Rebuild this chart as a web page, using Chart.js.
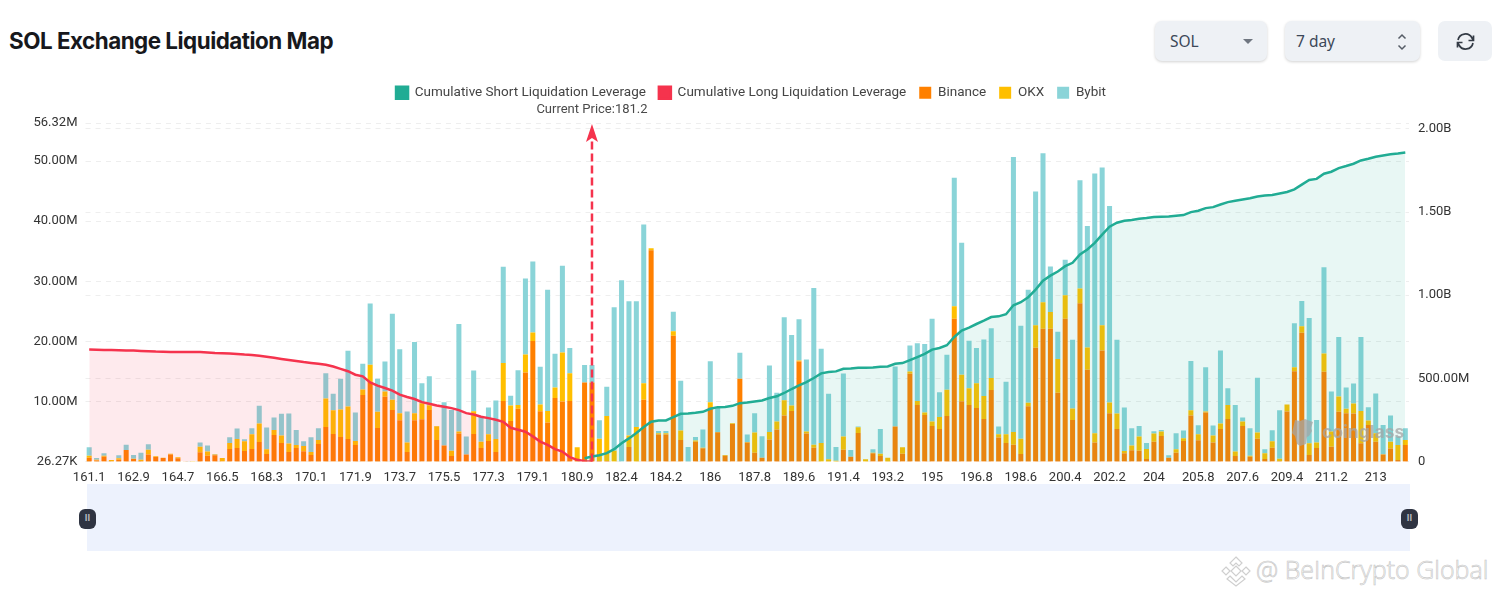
<!DOCTYPE html>
<html lang="en">
<head>
  <meta charset="UTF-8" />
  <title>SOL Exchange Liquidation Map</title>
  <script src="https://cdn.jsdelivr.net/npm/chart.js"></script>
  <style>
    html, body { margin: 0; padding: 0; background: #fff; overflow: hidden; }
    body { width: 1496px; height: 597px; position: relative; font-family: Roboto, sans-serif; }
    h1 { position: absolute; left: 9px; top: 25px; margin: 0; font: 700 22.4px/32px Inter, sans-serif; letter-spacing: -0.5px; color: #17181c; }
    .ctl { position: absolute; top: 21px; height: 40px; background: #eef1f5; border-radius: 7px; box-shadow: 0 1px 3px rgba(0,0,0,.18); font: 15.5px/40px "Noto Sans", sans-serif; color: #3c4858; }
    .ctl span { position: absolute; left: 15px; top: 0; }
    #chart { position: absolute; left: 0; top: 71px; }
    #slider { position: absolute; left: 87px; top: 484px; width: 1323px; height: 67px; background: #edf2fd; }
    .handle { position: absolute; top: 509px; width: 17px; height: 20px; background: #2f3442; border-radius: 6px; color: #b9bcc4; font: 700 9px/19px Roboto, sans-serif; text-align: center; }
    #coinglass { position: absolute; left: 1322px; top: 420px; font: 700 17.5px/24px Inter, sans-serif; color: rgba(165,165,165,.75); }
    #brand { position: absolute; left: 1256px; top: 553px; font: 300 25px/32px "Open Sans", sans-serif; color: #fff; -webkit-text-stroke: .6px #c4c4c4; white-space: nowrap; }
    svg { position: absolute; }
  </style>
</head>
<body>
  <h1>SOL Exchange Liquidation Map</h1>

  <div class="ctl" style="left:1155px;width:112px"><span>SOL</span>
    <svg style="left:87px;top:17px" width="12" height="7"><path d="M1 1h10L6 6z" fill="#6f7680"/></svg>
  </div>
  <div class="ctl" style="left:1285px;width:135px"><span style="left:11px">7 day</span>
    <svg style="left:111px;top:11px" width="12" height="20" fill="none" stroke="#555c66" stroke-width="1.5"><path d="M2.5 6.5L6 3l3.5 3.5M2.5 13.5L6 17l3.5-3.5"/></svg>
  </div>
  <div class="ctl" style="left:1438px;width:54px;box-shadow:none">
    <svg style="left:18px;top:11px" width="19" height="19" fill="none" stroke="#333b45" stroke-width="1.7"><path d="M2 8a7.5 7.5 0 0 1 14-2l1.5 2.5M17 11a7.5 7.5 0 0 1-14 2l-1.5-2.5M17.5 3.5v5h-5M1.5 15.5v-5h5"/></svg>
  </div>

  <canvas id="chart" width="1496" height="414"></canvas>

  <div id="slider"></div>
  <div class="handle" style="left:79px">II</div>
  <div class="handle" style="left:1401px">II</div>

  <svg style="left:1292px;top:418px" width="22" height="28"><path d="M3 2l5 1 5-2 5 2 3 1-2 6 1 3-3 5-2 1-1 7-6 2-3-2-2-8-3-3z" fill="rgba(165,165,165,.75)"/></svg>
  <div id="coinglass">coinglass</div>

  <svg style="left:1221px;top:556px" width="30" height="31" fill="none" stroke="#cfcfcf" stroke-width="1.2"><path d="M15 1l6 6-3 3-3-3-3 3-3-3zM5 11l4 4-4 4-4-4zM25 11l4 4-4 4-4-4zM15 10l5 5-5 5-5-5zM9 20l6 6 6-6 3 3-9 7-9-7z"/></svg>
  <div id="brand">@ BeInCrypto Global</div>

  <script>
    // price buckets, every 6th one gets a label
    const priceLevels = [
      161.1,161.4,161.7,162,162.3,162.6,162.9,163.2,163.5,163.8,164.1,164.4,
      164.7,165,165.3,165.6,165.9,166.2,166.5,166.8,167.1,167.4,167.7,168,
      168.3,168.6,168.9,169.2,169.5,169.8,170.1,170.4,170.7,171,171.3,171.6,
      171.9,172.2,172.5,172.8,173.1,173.4,173.7,174,174.3,174.6,174.9,175.2,
      175.5,175.8,176.1,176.4,176.7,177,177.3,177.6,177.9,178.2,178.5,178.8,
      179.1,179.4,179.7,180,180.3,180.6,180.9,181.2,181.2,181.5,181.8,182.1,
      182.4,182.7,183,183.3,183.6,183.9,184.2,184.5,184.8,185.1,185.4,185.7,
      186,186.3,186.6,186.9,187.2,187.5,187.8,188.1,188.4,188.7,189,189.3,
      189.6,189.9,190.2,190.5,190.8,191.1,191.4,191.7,192,192.3,192.6,192.9,
      193.2,193.5,193.8,194.1,194.4,194.7,195,195.3,195.6,195.9,196.2,196.5,
      196.8,197.1,197.4,197.7,198,198.3,198.6,198.9,199.2,199.5,199.8,200.1,
      200.4,200.7,201,201.3,201.6,201.9,202.2,202.5,202.8,203.1,203.4,203.7,
      204,204.3,204.6,204.9,205.2,205.5,205.8,206.1,206.4,206.7,207,207.3,
      207.6,207.9,208.2,208.5,208.8,209.1,209.4,209.7,210,210.3,210.6,210.9,
      211.2,211.5,211.8,212.1,212.4,212.7,213,213.3,213.6,213.9,214.2
    ];

    // liquidation per bucket, in millions
    const binance = [
      .67,.2,.83,.05,.33,1.95,.45,.1,1.17,.78,.6,1.2,.55,.02,0,1.55,1,1.05,.05,2.1,
      2.28,1.78,2.1,3.28,1.28,4.45,3.1,1.6,2.28,1.72,1.1,2.95,5.78,4.6,4.1,3.78,2.78,11.1,13.3,5.6,
      10.8,8.6,6.9,1.6,6.9,7.05,8.6,3.6,2.67,.95,4.67,1.17,4.6,2.28,3.44,1.6,10.1,6.78,8.78,14.83,
      20.05,8.4,6.5,10.6,10,10.1,.3,13.17,13.17,.1,.1,0,0,2.44,0,10.28,35.17,4.5,4.5,20.94,
      3.6,0,3.33,2.22,9.05,4.9,1,6.28,13.78,3.17,1.5,.67,3.67,5.33,7.67,8.44,16.67,4.67,2.33,0,
      0,0,2,.83,4.78,0,1.4,.94,0,5.83,1.33,14.6,9.44,7.78,5.94,5.44,7.6,23.78,10.05,9.44,
      8.94,7.1,11.9,4,3.1,2.83,1.28,9.2,18.94,22.1,22.1,11.44,23.78,6.94,26.33,15.28,3.17,18.5,8.05,5.44,
      1.39,1.89,1.83,.44,3.33,4.28,.67,1.5,3.44,7.67,3.55,8.17,3.17,5.44,7.1,.94,5.94,.83,3.83,.44,
      2.33,.05,8.33,15.05,21.44,1.1,2.28,14.94,2.5,8.28,8.05,8,3.05,6.1,3.33,1.17,2.17,.28,2.78
    ];
    const okx = [
      .33,.13,.17,.23,.22,0,.05,.23,.83,.12,.07,.13,.17,0,.05,.95,.67,.15,.55,1,
      1.5,1.62,2.45,3.05,.77,.83,1.23,1.4,.5,.88,.5,.65,4.72,3.95,4.57,5.39,.66,.9,2.8,2.7,
      .87,1.7,1.15,1.57,1.15,2.65,.8,2.3,0,.88,.33,0,3.8,1.05,1.11,2.18,6.3,2.55,.66,3,
      1.45,1.1,1.94,1.73,8.17,4.6,2.1,0,0,3.73,7.5,1.83,0,1.89,5.78,2.78,.33,.22,.22,.73,
      1.6,0,.17,.11,.85,.05,.1,.12,0,.11,3.33,0,1.27,1.34,2.53,.89,.16,.33,.5,3.1,
      .39,.17,2.17,0,.94,.39,.1,.39,.67,0,1.06,.4,.66,.39,.73,2,4.34,2.05,4.39,2.76,
      4.12,3.8,2,.55,1.45,2.11,2.55,.58,3.76,4.4,2.8,5.62,3.89,1.89,2.45,3.72,1.55,4.17,1.78,2.56,
      .39,.78,2.34,1.66,1.34,.72,0,.55,.45,.88,1,.16,1.16,.89,2.34,.73,.73,.17,1,.95,
      1.06,.45,1.17,.67,1.06,1.95,.89,3.06,2.5,2.55,.73,1.67,5.39,.73,1.39,.05,1.16,2.5,.83
    ];
    const bybit = [
      1.4,.27,.4,0,.5,.85,.6,1.17,.9,0,0,0,0,0,0,.67,1,.08,0,.95,
      1.72,.32,1,2.95,3.62,2.05,3.62,5,2.5,.8,2.45,1.95,4.2,2.73,5.11,9.27,4.73,4.3,10.2,5.5,
      5,14.3,10.65,5.16,11.85,3.35,4.8,.05,7.23,6.77,17.9,3,6.77,4.17,4.45,6.39,16,1.61,5.76,12.61,
      11.8,6.28,20.16,5.61,14.43,4.2,0,2.89,2.89,3.07,4.84,23.84,30.17,22.34,20.89,26.38,0,.38,.38,3.27,
      8.24,2.44,.6,3,6.8,3.99,0,0,4.32,1.22,3.22,3.55,11.06,4.77,13.8,11.72,6.84,12,26.07,15.68,
      10.89,2.27,10.5,1.11,.11,0,.55,4.11,0,10,0,4.33,9.6,11.39,17.11,4.12,5.84,21.37,21.96,7.9,
      5.83,9.43,8.3,1.28,8.73,45.73,18.77,18.82,22.24,24.78,7.54,4.54,5.89,11.45,18,20.17,43.22,26.27,32.67,12.28,
      7.22,2.89,1.75,1,.38,.28,.38,2.67,1.28,8.17,1.5,7.39,1.67,12.17,2.76,7.77,.66,4.56,9.11,.66,
      1.83,8.05,0,7.28,4.22,20.85,3.77,14.33,6.67,9.89,3.55,3.33,12.28,2.22,6.61,4.89,4.34,1.39,1.95
    ];

    // cumulative leverage, in billions (long runs up to the current price, short starts there)
    const longLeverage = [
      .673,.672,.671,.67,.669,.668,.667,.665,.663,.661,.66,.659,.659,.659,.659,.658,.655,.652,.651,.65,
      .647,.643,.641,.636,.63,.624,.617,.611,.604,.598,.593,.588,.582,.571,.557,.543,.522,.512,.476,.456,
      .442,.426,.402,.388,.376,.357,.347,.337,.329,.321,.309,.291,.283,.269,.261,.251,.239,.203,.191,.179,
      .151,.12,.1,.074,.06,.026,.01,.002,0
    ];
    const shortLeverage = [
      .02,.03,.038,.05,.074,.11,.139,.171,.207,.239,.247,.247,.267,.287,.289,.293,.299,.317,.327,.328,
      .335,.351,.355,.361,.367,.382,.392,.412,.436,.458,.478,.502,.53,.538,.542,.558,.56,.564,.564,.566,
      .57,.572,.588,.592,.61,.628,.647,.673,.683,.699,.749,.787,.805,.827,.847,.869,.873,.886,.94,.958,
      .988,1.034,1.088,1.118,1.143,1.175,1.195,1.245,1.275,1.315,1.365,1.412,1.436,1.448,1.452,1.46,1.464,1.47,1.472,1.474,
      1.478,1.482,1.5,1.508,1.524,1.53,1.546,1.56,1.568,1.576,1.583,1.594,1.6,1.603,1.612,1.621,1.637,1.665,1.693,1.7,
      1.731,1.743,1.765,1.777,1.791,1.811,1.821,1.833,1.841,1.848,1.852,1.858
    ];

    const leftTicks = [0.02627, 10, 20, 30, 40, 50, 56.32];
    const leftTickLabels = ['26.27K', '10.00M', '20.00M', '30.00M', '40.00M', '50.00M', '56.32M'];
    const rightTicks = [0, 0.5, 1, 1.5, 2];
    const rightTickLabels = ['0', '500.00M', '1.00B', '1.50B', '2.00B'];

    const currentPrice = 181.2;
    const currentIndex = 68; // bucket the arrow sits on

    const FONT = 'Roboto, sans-serif';

    // nulls pad the two lines so they sit on their side of the price
    const longData = longLeverage.concat(Array(priceLevels.length - longLeverage.length).fill(null));
    const shortData = Array(priceLevels.length - shortLeverage.length).fill(null).concat(shortLeverage);

    // arrow + label at the current price
    const priceArrow = {
      id: 'priceArrow',
      afterDatasetsDraw(chart) {
        const ctx = chart.ctx;
        const x = chart.scales.x.getPixelForValue(currentIndex);
        const bottom = chart.chartArea.bottom;
        const top = chart.chartArea.top;
        ctx.save();
        ctx.strokeStyle = '#f5334d';
        ctx.fillStyle = '#f5334d';
        ctx.lineWidth = 2.5;
        ctx.setLineDash([8, 4]);
        ctx.beginPath();
        ctx.moveTo(x, bottom);
        ctx.lineTo(x, top + 14);
        ctx.stroke();
        ctx.beginPath();
        ctx.moveTo(x, top + 1);
        ctx.lineTo(x + 6, top + 19);
        ctx.lineTo(x, top + 15);
        ctx.lineTo(x - 6, top + 19);
        ctx.closePath();
        ctx.fill();
        ctx.font = '13px ' + FONT;
        ctx.fillStyle = '#4a4a4a';
        ctx.textAlign = 'center';
        ctx.textBaseline = 'middle';
        ctx.fillText('Current Price:' + currentPrice, x, top - 13);
        ctx.restore();
      }
    };

    // leaves room under the legend for the price label, and nudges it right
    const legendGap = {
      id: 'legendGap',
      beforeLayout(chart) {
        if (chart.legend._gap) return;
        const fit = chart.legend.fit;
        chart.legend.fit = function () { fit.call(this); this.height = 50; };
        chart.legend._gap = true;
      },
      afterLayout(chart) {
        chart.legend.left += 3;
        chart.legend.right += 3;
      }
    };

    new Chart('chart', {
      type: 'bar',
      data: {
        labels: priceLevels,
        datasets: [
          { type: 'line', label: 'Cumulative Short Liquidation Leverage', data: shortData, yAxisID: 'y1', order: 0,
            borderColor: '#21ac94', backgroundColor: '#21ac94', borderWidth: 2.5, pointRadius: 0, fill: { target: 'origin', above: 'rgba(33,172,148,0.1)' } },
          { type: 'line', label: 'Cumulative Long Liquidation Leverage', data: longData, yAxisID: 'y1', order: 0,
            borderColor: '#f5334d', backgroundColor: '#f5334d', borderWidth: 2.5, pointRadius: 0, fill: { target: 'origin', above: 'rgba(245,51,77,0.1)' } },
          { label: 'Binance', data: binance, backgroundColor: '#ff8000', stack: 'ex', order: 1 },
          { label: 'OKX', data: okx, backgroundColor: '#ffbf00', stack: 'ex', order: 1 },
          { label: 'Bybit', data: bybit, backgroundColor: '#8ad4d8', stack: 'ex', order: 1 }
        ]
      },
      options: {
        responsive: false,
        animation: false,
        layout: { padding: { top: 2 } },
        datasets: { bar: { barPercentage: 0.68, categoryPercentage: 1 } },
        plugins: {
          tooltip: { enabled: false },
          legend: {
            position: 'top',
            labels: { boxWidth: 12, boxHeight: 12, padding: 13, color: '#444', font: { family: FONT, size: 13.5 } }
          }
        },
        scales: {
          x: {
            stacked: true,
            grid: { display: false },
            border: { display: false },
            afterFit(s) { s.height = 23.5; },
            ticks: {
              autoSkip: false, maxRotation: 0, padding: 0, color: '#333',
              font: { family: FONT, size: 13 },
              callback(v, i) { return i % 6 === 0 ? priceLevels[i] : ''; }
            }
          },
          y: {
            stacked: true,
            position: 'left',
            min: 0.02627,
            max: 56.32,
            afterFit(s) { s.width = 85.5; },
            afterBuildTicks(s) { s.ticks = leftTicks.map(v => ({ value: v })); },
            grid: { color: '#eeeeee', tickLength: 0 },
            border: { display: false, dash: [5, 5] },
            ticks: {
              autoSkip: false, padding: 8, color: '#333',
              font: { family: FONT, size: 13 },
              callback(v) { return leftTickLabels[leftTicks.indexOf(v)]; }
            }
          },
          y1: {
            position: 'right',
            min: 0,
            max: 2.036,
            afterFit(s) { s.width = 87; },
            afterBuildTicks(s) { s.ticks = rightTicks.map(v => ({ value: v })); },
            grid: { color: '#eeeeee', tickLength: 0 },
            border: { display: false, dash: [5, 5] },
            ticks: {
              autoSkip: false, padding: 9, color: '#333',
              font: { family: FONT, size: 13 },
              callback(v) { return rightTickLabels[rightTicks.indexOf(v)]; }
            }
          }
        }
      },
      plugins: [priceArrow, legendGap]
    });
  </script>
</body>
</html>
